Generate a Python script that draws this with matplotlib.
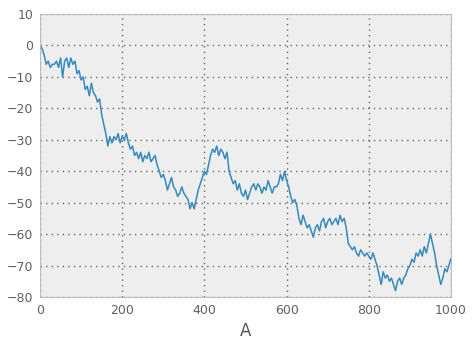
import matplotlib
matplotlib.use("Agg")
import matplotlib.pyplot as plt
import numpy as np

# random-walk values, every 5 steps
steps = list(range(0, 1000, 5)) + [999]
values = [
    0, -1, -3, -6, -5, -7, -6, -6, -5, -7,
    -4, -10, -5, -4, -7, -4, -6, -5, -9, -8,
    -11, -10, -14, -13, -16, -12, -15, -16, -18, -17,
    -22, -25, -28, -32, -29, -31, -29, -30, -28, -31,
    -29, -30, -28, -31, -33, -32, -35, -34, -36, -34,
    -37, -35, -36, -34, -37, -36, -35, -38, -40, -42,
    -41, -43, -46, -44, -42, -45, -46, -48, -47, -45,
    -47, -48, -49, -52, -50, -52, -49, -46, -44, -42,
    -40, -41, -38, -35, -33, -34, -32, -35, -33, -34,
    -36, -34, -40, -42, -44, -43, -46, -44, -47, -48,
    -46, -49, -47, -45, -44, -46, -44, -45, -47, -45,
    -46, -43, -45, -47, -45, -45, -44, -41, -43, -40,
    -43, -45, -48, -50, -49, -51, -55, -57, -54, -56,
    -58, -57, -59, -61, -58, -57, -59, -56, -55, -58,
    -56, -55, -57, -56, -55, -57, -54, -56, -55, -58,
    -63, -64, -65, -64, -66, -67, -65, -66, -67, -66,
    -67, -68, -66, -68, -70, -73, -76, -72, -74, -73,
    -75, -74, -76, -78, -75, -74, -76, -74, -73, -71,
    -70, -68, -69, -66, -67, -65, -67, -64, -66, -63,
    -60, -63, -66, -70, -73, -76, -74, -71, -72, -70,
    -68,
]
x_ticks = [0, 200, 400, 600, 800, 1000]
y_ticks = [-80, -70, -60, -50, -40, -30, -20, -10, 0, 10]

fig = plt.figure(figsize=(4.74, 3.48), dpi=100)
ax = fig.add_axes([0.0844, 0.1466, 0.8671, 0.8132])
ax.set_facecolor("#EEEEEE")
ax.plot(steps, values, color="#348ABD", lw=1.1)

ax.set_xlim(0, 1000)
ax.set_ylim(-80, 10)
ax.set_xticks(x_ticks)
ax.set_yticks(y_ticks)
ax.grid(True, color="#666666", linestyle=(0, (1, 3)), linewidth=1.0)
ax.set_axisbelow(True)
for s in ax.spines.values():
    s.set_color("#BCBCBC")
ax.tick_params(colors="#606060", labelsize=9, length=0, pad=5)
ax.set_xlabel("A", fontsize=12, color="#555555", labelpad=4)

fig.savefig("out.png", dpi=100)
